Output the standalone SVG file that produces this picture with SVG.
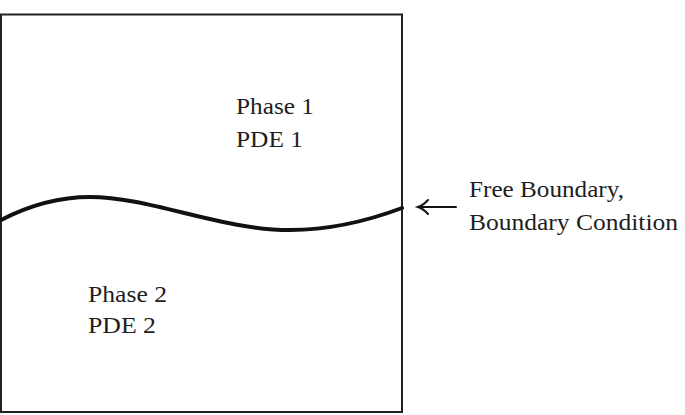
<svg xmlns="http://www.w3.org/2000/svg" width="685" height="415" viewBox="0 0 685 415">
<style>
text{font-family:"Liberation Serif","Times New Roman",serif;font-size:23.5px;fill:#1e1e1e}
.ln{fill:none;stroke:#111;stroke-linecap:round}
</style>
<rect width="685" height="415" fill="#fff"/>
<g id="domain">
<rect x="1" y="14.5" width="401" height="397.5" fill="none" stroke="#222" stroke-width="2"/>
</g>
<g id="boundary">
<path class="ln" d="M1,220 C30,205 60,197 90,197 C150,197 220,230 290,230 C330,230 370,220 402,208" stroke-width="4"/>
</g>
<g id="phase1">
<text x="236" y="114" textLength="78" lengthAdjust="spacingAndGlyphs">Phase 1</text>
<text x="236" y="147" textLength="67" lengthAdjust="spacingAndGlyphs">PDE 1</text>
</g>
<g id="phase2">
<text x="88" y="302" textLength="79" lengthAdjust="spacingAndGlyphs">Phase 2</text>
<text x="88" y="333" textLength="68" lengthAdjust="spacingAndGlyphs">PDE 2</text>
</g>
<g id="label">
<text x="469" y="197" textLength="155" lengthAdjust="spacingAndGlyphs">Free Boundary,</text>
<text x="469" y="230" textLength="209" lengthAdjust="spacingAndGlyphs">Boundary Condition</text>
</g>
<g id="connectors">
<path class="ln" d="M456,207 H419" stroke-width="2"/>
<path class="ln" d="M428,200 Q423,205.5 418,207 Q423,208.5 428,214" stroke-width="2"/>
</g>
</svg>
